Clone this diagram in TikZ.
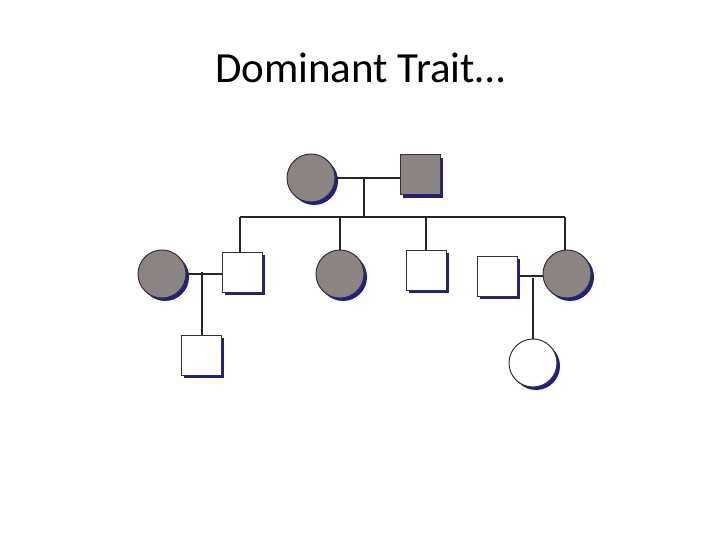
\documentclass[tikz,border=0pt]{standalone}
\usepackage{fontspec}
\setmainfont{Carlito}
\begin{document}
\begin{tikzpicture}[x=1pt,y=-1pt,
  navy/.style={fill={rgb,255:red,30;green,30;blue,140}},
  aff/.style={draw=black!80,line width=1pt,fill={rgb,255:red,140;green,132;blue,130}},
  un/.style={draw=black!80,line width=1pt,fill=white},
  ln/.style={line width=1.2pt,black!85}]
\path[use as bounding box] (0,0) rectangle (720,540);
\node (t) at (360,68) {\fontsize{43}{48}\selectfont Dominant Trait…};
\newcommand{\fem}[4]{\fill[navy] (#2+3,#3+3) circle (24);\node[#4,circle,minimum size=48pt,inner sep=0pt] (#1) at (#2,#3) {};}
\newcommand{\mal}[4]{\fill[navy] (#2-17,#3-17) rectangle (#2+23,#3+23);\node[#4,rectangle,minimum size=40pt,inner sep=0pt] (#1) at (#2,#3) {};}
\fem{gm}{311}{178}{aff}
\mal{gf}{420}{175}{aff}
\fem{a}{162}{274}{aff}
\mal{b}{242}{272}{un}
\fem{c}{340}{274}{aff}
\mal{d}{426}{270}{un}
\mal{e}{497}{276}{un}
\fem{f}{567}{274}{aff}
\mal{g}{201}{355}{un}
\fem{h}{533}{363}{un}
\coordinate (m1) at (364,178);
\coordinate (m2) at (364,217);
\coordinate (s1) at (240,217);
\coordinate (s2) at (565,217);
\coordinate (m3) at (202,272);
\coordinate (m4) at (533,278);
\draw[ln] (gm.east) -- (gm.east -| gf.west);
\draw[ln] (m1) -- (m2);
\draw[ln] (s1) -- (s2);
\draw[ln] (s1) -- (s1 |- b.north);
\draw[ln] (340,217) -- (c.north);
\draw[ln] (426,217) -- (d.north);
\draw[ln] (s2) -- (s2 |- f.north);
\draw[ln] (a.east) -- (a.east -| b.west);
\draw[ln] (m3) -- (m3 |- g.north);
\draw[ln] (e.east) -- (e.east -| f.west);
\draw[ln] (m4) -- (h.north);
\end{tikzpicture}
\end{document}
